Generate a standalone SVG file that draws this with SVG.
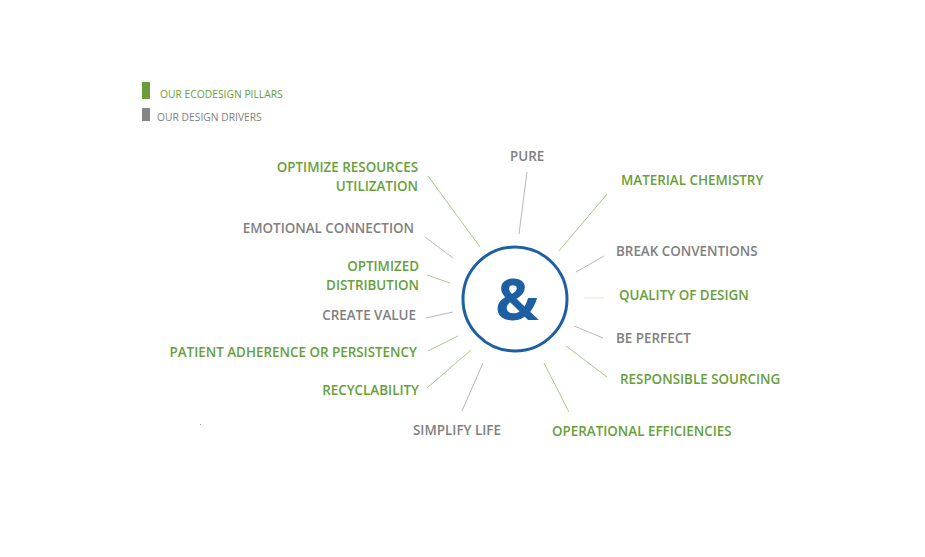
<svg xmlns="http://www.w3.org/2000/svg" width="925" height="557" viewBox="0 0 925 557">
<style>
text{font-family:"Open Sans","Liberation Sans",sans-serif;font-weight:600;font-size:13.4px}
.g{fill:#67a03a}
.d{fill:#808080}
.r{text-anchor:end}
.lg{stroke:#a9c98c;stroke-width:1}
.ld{stroke:#b8b8b8;stroke-width:1}
.leg{font-size:10.3px;font-weight:400}
</style>
<rect width="925" height="557" fill="#ffffff"/>
<g id="legend">
<rect x="142" y="82" width="8" height="17" fill="#6a9e3c"/>
<text class="g leg" x="160" y="98">OUR ECODESIGN PILLARS</text>
<rect x="142" y="108" width="8" height="13" fill="#858585"/>
<text class="d leg" x="157" y="121">OUR DESIGN DRIVERS</text>
</g>
<g id="connectors">
<line class="lg" x1="428" y1="176" x2="480" y2="247"/>
<line class="ld" x1="425" y1="237" x2="453" y2="258"/>
<line class="ld" x1="527" y1="172" x2="519" y2="234"/>
<line class="lg" x1="607" y1="194" x2="559" y2="251"/>
<line class="ld" x1="604" y1="256" x2="576" y2="272"/>
<line class="lg" x1="584" y1="298" x2="604" y2="298" stroke-opacity="0.4"/>
<line class="ld" x1="574" y1="326" x2="603" y2="338"/>
<line class="lg" x1="566" y1="346" x2="607" y2="377"/>
<line class="lg" x1="544" y1="363" x2="569" y2="412"/>
<line class="ld" x1="483" y1="363" x2="462" y2="411"/>
<line class="lg" x1="427" y1="275" x2="450" y2="283"/>
<line class="ld" x1="426" y1="318" x2="453" y2="312"/>
<line class="lg" x1="428" y1="351" x2="458" y2="336"/>
<line class="lg" x1="427" y1="388" x2="471" y2="350"/>
</g>
<g id="center">
<circle cx="515" cy="299" r="52" fill="none" stroke="#1d5fa3" stroke-width="3"/>
<text x="517" y="320" text-anchor="middle" style="font-size:58px;font-weight:700;fill:#1d5fa3">&amp;</text>
</g>
<g id="n-optimize-resources"><text class="g r" x="418" y="172">OPTIMIZE RESOURCES</text><text class="g r" x="418" y="191">UTILIZATION</text></g>
<g id="n-emotional"><text class="d r" x="414" y="233">EMOTIONAL CONNECTION</text></g>
<g id="n-optimized-distribution"><text class="g r" x="419" y="271">OPTIMIZED</text><text class="g r" x="419" y="290">DISTRIBUTION</text></g>
<g id="n-create-value"><text class="d r" x="416" y="320">CREATE VALUE</text></g>
<g id="n-patient"><text class="g r" x="417" y="357">PATIENT ADHERENCE OR PERSISTENCY</text></g>
<g id="n-recyclability"><text class="g r" x="419" y="395">RECYCLABILITY</text></g>
<g id="n-simplify"><text class="d" x="413" y="435">SIMPLIFY LIFE</text></g>
<g id="n-pure"><text class="d" x="510" y="161">PURE</text></g>
<g id="n-material"><text class="g" x="621" y="185">MATERIAL CHEMISTRY</text></g>
<g id="n-break"><text class="d" x="616" y="256">BREAK CONVENTIONS</text></g>
<g id="n-quality"><text class="g" x="619" y="300">QUALITY OF DESIGN</text></g>
<g id="n-perfect"><text class="d" x="616" y="343">BE PERFECT</text></g>
<g id="n-responsible"><text class="g" x="620" y="384">RESPONSIBLE SOURCING</text></g>
<g id="n-operational"><text class="g" x="552" y="436">OPERATIONAL EFFICIENCIES</text></g>
<rect x="200" y="424" width="1" height="1" fill="#999999"/>
</svg>
